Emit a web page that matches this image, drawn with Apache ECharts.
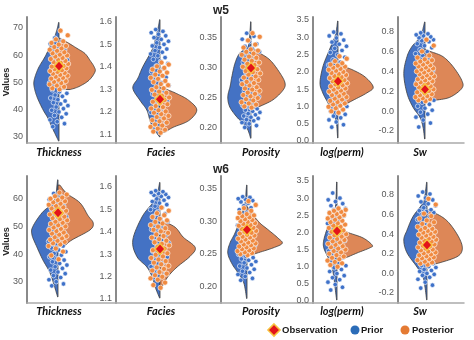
<!DOCTYPE html>
<html>
<head>
<meta charset="utf-8">
<script src="https://cdn.jsdelivr.net/npm/echarts@6.0.0/dist/echarts.min.js"></script>
<style>
  html, body { margin: 0; padding: 0; background: #ffffff; }
  #chart { width: 474px; height: 340px; }
</style>
</head>
<body>
<div id="chart"></div>
<script>
// ---------------------------------------------------------------
// Data: prior vs posterior distributions per property and well
// ---------------------------------------------------------------
const categories = ['Thickness', 'Facies', 'Porosity', 'log(perm)', 'Sw'];
const wells = ['w5', 'w6'];

// observed values (red diamonds)
const obsW5 = [56.0, 1.255, 0.300, 1.73, 0.22];
const obsW6 = [55.0, 1.323, 0.287, 2.04, 0.29];

// tick labels
const ticksThickW5 = [30, 40, 50, 60, 70];
const ticksThickW6 = [30, 40, 50, 60];
const ticksFacies = [1.1, 1.2, 1.3, 1.4, 1.5, 1.6];
const ticksPoro = [0.20, 0.25, 0.30, 0.35];
const ticksPerm = [0.0, 0.5, 1.0, 1.5, 2.0, 2.5, 3.0, 3.5];
const ticksSw = [-0.2, 0.0, 0.2, 0.4, 0.6, 0.8];
const tickDecimals = [0, 1, 2, 1, 1];

// violin density profiles: [value, relative density]
const thk5PriorKde = [[28.5,.01],[30,.06],[33.7,.18],[37,.28],[40,.40],[44,.53],[47,.60],[49.8,.63],[52.5,.59],[55.7,.50],[59.4,.35],[63,.23],[66,.13],[68,.08],[70,.04],[72,.01]];
const thk5PostKde  = [[47.4,.28],[48.5,.50],[50.8,.75],[53.9,.90],[55.7,.88],[58,.78],[60.6,.65],[62.5,.45],[64.6,.22],[65.6,.10],[66.2,.03]];
const fac5PriorKde = [[1.087,.01],[1.13,.18],[1.16,.25],[1.207,.33],[1.25,.50],[1.305,.68],[1.35,.55],[1.40,.43],[1.475,.20],[1.52,.12],[1.55,.08],[1.58,.04],[1.61,.01]];
const fac5PostKde  = [[1.108,.12],[1.13,.33],[1.16,.72],[1.207,.92],[1.25,.72],[1.28,.42],[1.30,.15],[1.306,.03]];
const por5PriorKde = [[.183,.01],[.197,.08],[.208,.20],[.218,.35],[.235,.53],[.252,.58],[.27,.52],[.285,.48],[.308,.40],[.325,.28],[.335,.08],[.35,.04],[.365,.02],[.377,.01]];
const por5PostKde  = [[.233,.12],[.236,.22],[.247,.55],[.263,.80],[.275,.85],[.292,.72],[.313,.48],[.325,.22],[.333,.05]];
const lp5PriorKde  = [[.09,.01],[.52,.04],[.81,.12],[1.1,.25],[1.39,.38],[1.68,.45],[2.14,.38],[2.54,.25],[3.01,.08],[3.2,.04],[3.47,.01]];
const lp5PostKde   = [[1.04,.15],[1.18,.38],[1.39,.72],[1.56,.88],[1.85,.68],[2.05,.38],[2.15,.15],[2.2,.03]];
const sw5PriorKde  = [[-.28,.01],[-.16,.05],[-.06,.13],[.04,.30],[.18,.45],[.38,.53],[.55,.45],[.65,.33],[.72,.18],[.79,.08],[.85,.04],[.9,.01]];
const sw5PostKde   = [[.11,.25],[.14,.62],[.23,.92],[.31,.92],[.45,.70],[.55,.45],[.60,.15],[.62,.03]];

const thk6PriorKde = [[24.6,.01],[28,.08],[33.3,.20],[38,.38],[42.7,.53],[47,.65],[50,.63],[55,.40],[58.6,.13],[62,.05],[65,.025],[66.9,.01]];
const thk6PostKde  = [[43.4,.20],[45.2,.35],[48.8,.80],[51.3,.88],[54,.75],[58.6,.55],[62,.22],[65,.05]];
const fac6PriorKde = [[1.104,.01],[1.153,.12],[1.2,.20],[1.243,.33],[1.29,.58],[1.363,.68],[1.466,.45],[1.53,.18],[1.57,.07],[1.6,.03],[1.62,.01]];
const fac6PostKde  = [[1.154,.05],[1.2,.20],[1.243,.43],[1.29,.75],[1.33,.88],[1.376,.58],[1.42,.38],[1.45,.05]];
const por6PriorKde = [[.181,.01],[.205,.08],[.22,.22],[.235,.38],[.251,.48],[.266,.43],[.282,.30],[.302,.18],[.328,.05],[.345,.025],[.356,.01]];
const por6PostKde  = [[.248,.10],[.251,.25],[.259,.65],[.266,.88],[.274,.78],[.287,.53],[.297,.33],[.31,.15],[.322,.02]];
const lp6PriorKde  = [[.03,.01],[.41,.05],[.7,.08],[.99,.13],[1.28,.23],[1.55,.33],[1.78,.33],[2.16,.23],[2.4,.12],[2.65,.05],[3.0,.025],[3.47,.01]];
const lp6PostKde   = [[1.2,.08],[1.25,.20],[1.4,.50],[1.55,.82],[1.63,.88],[1.84,.65],[2.01,.25],[2.16,.03]];
const sw6PriorKde  = [[-.27,.01],[-.14,.05],[-.04,.10],[.065,.25],[.21,.50],[.34,.58],[.44,.50],[.58,.35],[.72,.10],[.8,.05],[.93,.01]];
const sw6PostKde   = [[.09,.12],[.11,.33],[.17,.75],[.24,.88],[.34,.83],[.48,.62],[.57,.40],[.65,.03]];

// samples (scatter points)
const thk5Prior = [33.8,34.9,35.6,36.3,37.2,37.9,38.5,39.2,39.8,40.4,41.0,41.5,42.1,42.6,43.2,43.7,44.3,44.9,45.4,46.0,46.6,47.3,48.1,49.0,49.9,50.8,51.7,52.6,53.6,54.7,55.8,57.0,58.2,59.5,60.7,61.9,63.1,64.2,65.2,66.3];
const thk5Post = [47.5,47.9,48.4,48.9,49.3,49.8,50.2,50.5,51.0,51.4,51.7,52.1,52.5,52.8,53.2,53.5,53.9,54.2,54.5,54.9,55.2,55.4,55.8,56.1,56.5,56.8,57.2,57.5,57.9,58.3,58.6,59.0,59.5,59.9,60.2,60.7,61.1,61.6,62.0,62.5,63.0,63.4,63.9,64.5,65.1,65.8,67.3,69.0];
const fac5Prior = [1.121,1.148,1.172,1.196,1.214,1.232,1.249,1.263,1.278,1.291,1.304,1.316,1.329,1.341,1.353,1.366,1.378,1.391,1.403,1.414,1.424,1.433,1.441,1.449,1.457,1.465,1.472,1.479,1.486,1.493,1.500,1.507,1.514,1.522,1.530,1.538,1.545,1.552,1.558,1.566];
const fac5Post = [1.106,1.111,1.119,1.124,1.132,1.138,1.143,1.151,1.157,1.162,1.170,1.176,1.181,1.189,1.195,1.201,1.206,1.214,1.220,1.225,1.233,1.239,1.244,1.252,1.258,1.263,1.271,1.276,1.284,1.289,1.297,1.304,1.309,1.318,1.323,1.332,1.337,1.346,1.351,1.360,1.365,1.374,1.379,1.388,1.395,1.402,1.410,1.419];
const por5Prior = [.201,.204,.207,.209,.212,.214,.216,.218,.220,.222,.224,.226,.228,.230,.232,.235,.238,.242,.247,.252,.257,.262,.268,.274,.280,.286,.292,.298,.304,.310,.316,.322,.327,.332,.336,.340,.344,.348,.353,.358];
const por5Post = [.234,.236,.239,.241,.243,.246,.248,.250,.253,.255,.257,.259,.262,.264,.266,.268,.271,.273,.275,.277,.280,.282,.284,.286,.289,.291,.293,.295,.298,.300,.302,.305,.307,.309,.312,.314,.317,.319,.322,.324,.327,.329,.331,.334,.339,.346,.352,.358];
const lp5Prior = [0.40,0.47,0.55,0.61,0.67,0.72,0.77,0.82,0.86,0.90,0.95,1.00,1.06,1.13,1.21,1.30,1.40,1.50,1.60,1.70,1.80,1.90,2.00,2.10,2.20,2.28,2.35,2.42,2.49,2.56,2.62,2.68,2.74,2.80,2.86,2.92,2.98,3.04,3.10,3.15];
const lp5Post = [0.82,0.86,0.91,0.95,0.99,1.02,1.06,1.09,1.13,1.16,1.20,1.23,1.27,1.30,1.33,1.37,1.40,1.43,1.46,1.49,1.52,1.55,1.58,1.61,1.64,1.67,1.70,1.73,1.76,1.79,1.82,1.85,1.88,1.91,1.94,1.97,2.00,2.03,2.06,2.09,2.12,2.15,2.18,2.21,2.25,2.31,2.38,2.45];
const sw5Prior = [-.16,-.12,-.09,-.06,-.03,-.01,.01,.03,.05,.07,.09,.11,.14,.17,.21,.25,.29,.33,.37,.41,.45,.49,.53,.56,.58,.60,.62,.64,.66,.68,.70,.71,.72,.73,.74,.75,.76,.77,.78,.79];
const sw5Post = [.102,.111,.123,.131,.142,.153,.161,.172,.183,.191,.204,.212,.221,.233,.242,.251,.263,.272,.281,.292,.303,.311,.322,.333,.341,.352,.361,.373,.382,.391,.402,.413,.421,.432,.441,.452,.463,.471,.482,.493,.502,.514,.523,.541,.562,.603,.662,.721];

const thk6Prior = [28.6,29.3,30.1,30.8,31.6,32.3,33.0,33.6,34.3,34.9,35.5,36.1,36.7,37.3,37.9,38.5,39.1,39.7,40.3,40.9,41.6,42.3,43.0,43.8,44.7,45.6,46.6,47.6,48.7,49.8,51.0,52.2,53.5,54.8,56.1,57.4,58.6,59.8,60.9,62.0];
const thk6Post = [38.2,39.6,41.0,42.1,43.0,43.6,44.0,44.5,44.9,45.3,45.8,46.2,46.6,47.1,47.5,47.9,48.4,48.8,49.2,49.7,50.1,50.5,51.0,51.4,51.8,52.3,52.7,53.1,53.6,54.0,54.4,54.9,55.3,55.7,56.2,56.6,57.0,57.5,57.9,58.3,58.8,59.2,59.6,60.1,60.5,61.0,61.6,62.3];
const fac6Prior = [1.195,1.212,1.228,1.244,1.259,1.273,1.287,1.300,1.313,1.326,1.338,1.350,1.362,1.374,1.386,1.398,1.410,1.422,1.434,1.446,1.458,1.469,1.480,1.490,1.499,1.507,1.514,1.521,1.528,1.535,1.541,1.547,1.553,1.558,1.563,1.567,1.571,1.575,1.579,1.583];
const fac6Post = [1.150,1.162,1.173,1.186,1.192,1.199,1.206,1.213,1.220,1.227,1.234,1.241,1.248,1.255,1.262,1.269,1.276,1.283,1.290,1.297,1.304,1.311,1.318,1.325,1.332,1.339,1.346,1.353,1.360,1.367,1.374,1.381,1.388,1.395,1.402,1.409,1.416,1.423,1.430,1.437,1.444,1.451,1.458,1.466,1.474,1.483,1.494,1.508];
const por6Prior = [.209,.212,.215,.218,.221,.223,.226,.228,.231,.233,.236,.238,.240,.242,.244,.246,.249,.253,.258,.263,.268,.274,.280,.287,.294,.300,.305,.310,.314,.318,.321,.324,.326,.328,.330,.332,.334,.335,.337,.338];
const por6Post = [.248,.2495,.2512,.2524,.2541,.2553,.2572,.2584,.2601,.2613,.2632,.2644,.2661,.2673,.2692,.2704,.2721,.2733,.2752,.2764,.2781,.2793,.2812,.2824,.2841,.2853,.2872,.2884,.2901,.2913,.2932,.2944,.2961,.2973,.2992,.3004,.3021,.3033,.3052,.3064,.3081,.3093,.3112,.3131,.3162,.3204,.3253,.3312];
const lp6Prior = [0.32,0.40,0.48,0.55,0.62,0.68,0.74,0.80,0.86,0.92,0.97,1.03,1.10,1.18,1.27,1.36,1.46,1.56,1.66,1.76,1.86,1.96,2.06,2.16,2.26,2.36,2.45,2.48,2.53,2.58,2.60,2.66,2.70,2.72,2.78,2.84,2.90,2.95,3.00,3.15];
const lp6Post = [1.00,1.05,1.10,1.14,1.18,1.22,1.26,1.30,1.34,1.38,1.42,1.46,1.50,1.53,1.57,1.60,1.64,1.67,1.71,1.74,1.78,1.81,1.85,1.88,1.92,1.95,1.99,2.02,2.06,2.09,2.13,2.16,2.20,2.23,2.27,2.30,2.34,2.37,2.41,2.44,2.48,2.51,2.54,2.57,2.60,2.63,2.66,2.70];
const sw6Prior = [-.15,-.12,-.09,-.06,-.04,-.02,-.01,0,.02,.03,.04,.06,.07,.08,.10,.13,.17,.21,.26,.31,.36,.41,.46,.51,.55,.58,.61,.62,.63,.64,.65,.67,.69,.71,.73,.75,.77,.79,.81,.83];
const sw6Post = [.090,.101,.112,.121,.135,.146,.155,.164,.176,.185,.194,.206,.215,.224,.236,.245,.254,.266,.275,.284,.296,.305,.314,.326,.335,.344,.356,.365,.374,.386,.395,.404,.416,.425,.434,.446,.455,.464,.476,.491,.505,.522,.541,.560,.585,.610,.702,.762];

// ---------------------------------------------------------------
// Layout
// ---------------------------------------------------------------
const AXIS_X = [27, 116, 221, 313, 398, 464];
const ROW_TOP = [17, 176];
const ROW_BOTTOM = [143, 303];
const CENTER_X = [[59, 160, 251, 338, 425], [58, 160, 247, 337, 427]];
const LABEL_X = [59, 161, 261, 342, 420];
const LABEL_Y = [152, 311];
const TITLE_Y = [11, 170];
const Y_RANGE = [
  [[27.8, 74.0], [1.06, 1.622], [0.175, 0.385], [-0.058, 3.587], [-0.321, 0.95]],
  [[22.4, 68.3], [1.082, 1.649], [0.174, 0.370], [-0.058, 3.646], [-0.302, 0.994]]
];
const DENSITY_PX = 40;   // half-width in px for a relative density of 1
const JITTER_PX = 9.5;   // horizontal spread of sample points

const COLOR_PRIOR_FILL = '#4472c4';
const COLOR_POST_FILL = '#dd8757';
const COLOR_PRIOR_PT = '#3f72c9';
const COLOR_POST_PT = '#f08a40';
const OUTLINE = '#3c3c3c';

const rows = [
  {
    obs: obsW5, ticks: [ticksThickW5, ticksFacies, ticksPoro, ticksPerm, ticksSw],
    priorKde: [thk5PriorKde, fac5PriorKde, por5PriorKde, lp5PriorKde, sw5PriorKde],
    postKde: [thk5PostKde, fac5PostKde, por5PostKde, lp5PostKde, sw5PostKde],
    prior: [thk5Prior, fac5Prior, por5Prior, lp5Prior, sw5Prior],
    post: [thk5Post, fac5Post, por5Post, lp5Post, sw5Post]
  },
  {
    obs: obsW6, ticks: [ticksThickW6, ticksFacies, ticksPoro, ticksPerm, ticksSw],
    priorKde: [thk6PriorKde, fac6PriorKde, por6PriorKde, lp6PriorKde, sw6PriorKde],
    postKde: [thk6PostKde, fac6PostKde, por6PostKde, lp6PostKde, sw6PostKde],
    prior: [thk6Prior, fac6Prior, por6Prior, lp6Prior, sw6Prior],
    post: [thk6Post, fac6Post, por6Post, lp6Post, sw6Post]
  }
];

// deterministic horizontal spread in [-1, 1]
function spread(i, phase) {
  return ((i * 0.6180339887 + phase) % 1) * 2 - 1;
}

// Catmull-Rom smoothing through pixel points
function smoothPath(pts, steps) {
  const out = [];
  const n = pts.length;
  for (let i = 0; i < n - 1; i++) {
    const p0 = pts[Math.max(i - 1, 0)], p1 = pts[i], p2 = pts[i + 1], p3 = pts[Math.min(i + 2, n - 1)];
    for (let s = 0; s < steps; s++) {
      const t = s / steps, t2 = t * t, t3 = t2 * t;
      out.push([0, 1].map(k => 0.5 * (2 * p1[k] + (-p0[k] + p2[k]) * t +
        (2 * p0[k] - 5 * p1[k] + 4 * p2[k] - p3[k]) * t2 +
        (-p0[k] + 3 * p1[k] - 3 * p2[k] + p3[k]) * t3)));
    }
  }
  out.push(pts[n - 1]);
  return out;
}

function violinRenderer(kde, side, fill) {
  return function (params, api) {
    const center = api.coord([0, kde[0][0]])[0];
    const edge = kde.map(([v, d]) => api.coord([side * d * DENSITY_PX, v]));
    const curve = smoothPath(edge, 8).map(([x, y]) =>
      [side < 0 ? Math.min(x, center) : Math.max(x, center), y]);
    const bottom = api.coord([0, kde[0][0]]);
    const top = api.coord([0, kde[kde.length - 1][0]]);
    return {
      type: 'polygon',
      shape: { points: [bottom].concat(curve, [top]) },
      style: { fill: fill, stroke: OUTLINE, lineWidth: 0.8 }
    };
  };
}

const grids = [], xAxes = [], yAxes = [], series = [], graphics = [];

rows.forEach((row, r) => {
  categories.forEach((cat, c) => {
    const k = grids.length;
    const cx = CENTER_X[r][c];
    grids.push({
      left: AXIS_X[c], top: ROW_TOP[r],
      width: AXIS_X[c + 1] - AXIS_X[c], height: ROW_BOTTOM[r] - ROW_TOP[r]
    });
    xAxes.push({
      gridIndex: k, type: 'value',
      min: AXIS_X[c] - cx, max: AXIS_X[c + 1] - cx,
      axisLine: { show: true, onZero: false, lineStyle: { color: '#ababab', width: 1.5 } },
      axisTick: { show: false }, axisLabel: { show: false }, splitLine: { show: false }
    });
    const dec = tickDecimals[c];
    yAxes.push({
      gridIndex: k, type: 'value',
      min: Y_RANGE[r][c][0], max: Y_RANGE[r][c][1],
      axisLine: { show: true, onZero: false, lineStyle: { color: '#8a8a8a', width: 2 } },
      axisTick: { show: false }, splitLine: { show: false },
      axisLabel: {
        customValues: row.ticks[c],
        formatter: v => Number(v).toFixed(dec),
        fontSize: 9, color: '#595959', margin: 4,
        fontFamily: 'Liberation Sans, Arial, sans-serif'
      }
    });

    series.push({
      type: 'custom', name: 'Prior', xAxisIndex: k, yAxisIndex: k,
      data: [[0, row.priorKde[c][0][0]]], silent: true, z: 1,
      renderItem: violinRenderer(row.priorKde[c], -1, COLOR_PRIOR_FILL)
    });
    series.push({
      type: 'custom', name: 'Posterior', xAxisIndex: k, yAxisIndex: k,
      data: [[0, row.postKde[c][0][0]]], silent: true, z: 1,
      renderItem: violinRenderer(row.postKde[c], 1, COLOR_POST_FILL)
    });
    series.push({
      type: 'scatter', name: 'Prior', xAxisIndex: k, yAxisIndex: k, z: 2, silent: true,
      data: row.prior[c].map((v, i) => [spread(i, 0.17) * JITTER_PX, v]),
      symbolSize: 4.6,
      itemStyle: { color: COLOR_PRIOR_PT, borderColor: '#ffffff', borderWidth: 0.6, opacity: 1 }
    });
    series.push({
      type: 'scatter', name: 'Posterior', xAxisIndex: k, yAxisIndex: k, z: 3, silent: true,
      data: row.post[c].map((v, i) => [spread(i, 0.53) * JITTER_PX, v]),
      symbolSize: 5.2,
      itemStyle: { color: COLOR_POST_PT, borderColor: '#ffffff', borderWidth: 0.6, opacity: 1 }
    });
    series.push({
      type: 'scatter', name: 'Observation', xAxisIndex: k, yAxisIndex: k, z: 5, silent: true,
      data: [[0, row.obs[c]]], symbol: 'diamond', symbolSize: [10, 11],
      itemStyle: { color: '#e3141b', borderColor: '#f7c23e', borderWidth: 1.5, opacity: 1 }
    });

    graphics.push({
      type: 'text', x: LABEL_X[c], y: LABEL_Y[r],
      style: {
        text: cat, x: 0, y: 0, align: 'center', verticalAlign: 'middle',
        font: 'italic bold 11px Lato, "Liberation Sans", sans-serif', fill: '#111111'
      }
    });
  });

  graphics.push({
    type: 'text', x: 221, y: TITLE_Y[r],
    style: {
      text: wells[r], align: 'center', verticalAlign: 'middle',
      font: 'bold 12px "Liberation Sans", Arial, sans-serif', fill: '#262626'
    }
  });
  graphics.push({
    type: 'text', x: 7, y: (ROW_TOP[r] + ROW_BOTTOM[r]) / 2 + 2, rotation: Math.PI / 2,
    style: {
      text: 'Values', align: 'center', verticalAlign: 'middle',
      font: 'bold 9px "Liberation Sans", Arial, sans-serif', fill: '#262626'
    }
  });
});

// legend
const LEGEND_Y = 330;
graphics.push(
  { type: 'polygon', shape: { points: [[274, LEGEND_Y - 6], [280, LEGEND_Y], [274, LEGEND_Y + 6], [268, LEGEND_Y]] },
    style: { fill: '#e3141b', stroke: '#f7c23e', lineWidth: 1.6 } },
  { type: 'text', x: 282, y: LEGEND_Y,
    style: { text: 'Observation', verticalAlign: 'middle', font: 'bold 9.5px "Liberation Sans", Arial, sans-serif', fill: '#1a1a1a' } },
  { type: 'circle', shape: { cx: 355, cy: LEGEND_Y, r: 4.5 }, style: { fill: '#2b6cb8' } },
  { type: 'text', x: 361, y: LEGEND_Y,
    style: { text: 'Prior', verticalAlign: 'middle', font: 'bold 9.5px "Liberation Sans", Arial, sans-serif', fill: '#1a1a1a' } },
  { type: 'circle', shape: { cx: 405, cy: LEGEND_Y, r: 4.5 }, style: { fill: '#e47a33' } },
  { type: 'text', x: 412, y: LEGEND_Y,
    style: { text: 'Posterior', verticalAlign: 'middle', font: 'bold 9.5px "Liberation Sans", Arial, sans-serif', fill: '#1a1a1a' } }
);

const chart = echarts.init(document.getElementById('chart'), null, { renderer: 'canvas' });
chart.setOption({
  backgroundColor: '#ffffff',
  animation: false,
  grid: grids,
  xAxis: xAxes,
  yAxis: yAxes,
  series: series,
  graphic: graphics
});
</script>
</body>
</html>
